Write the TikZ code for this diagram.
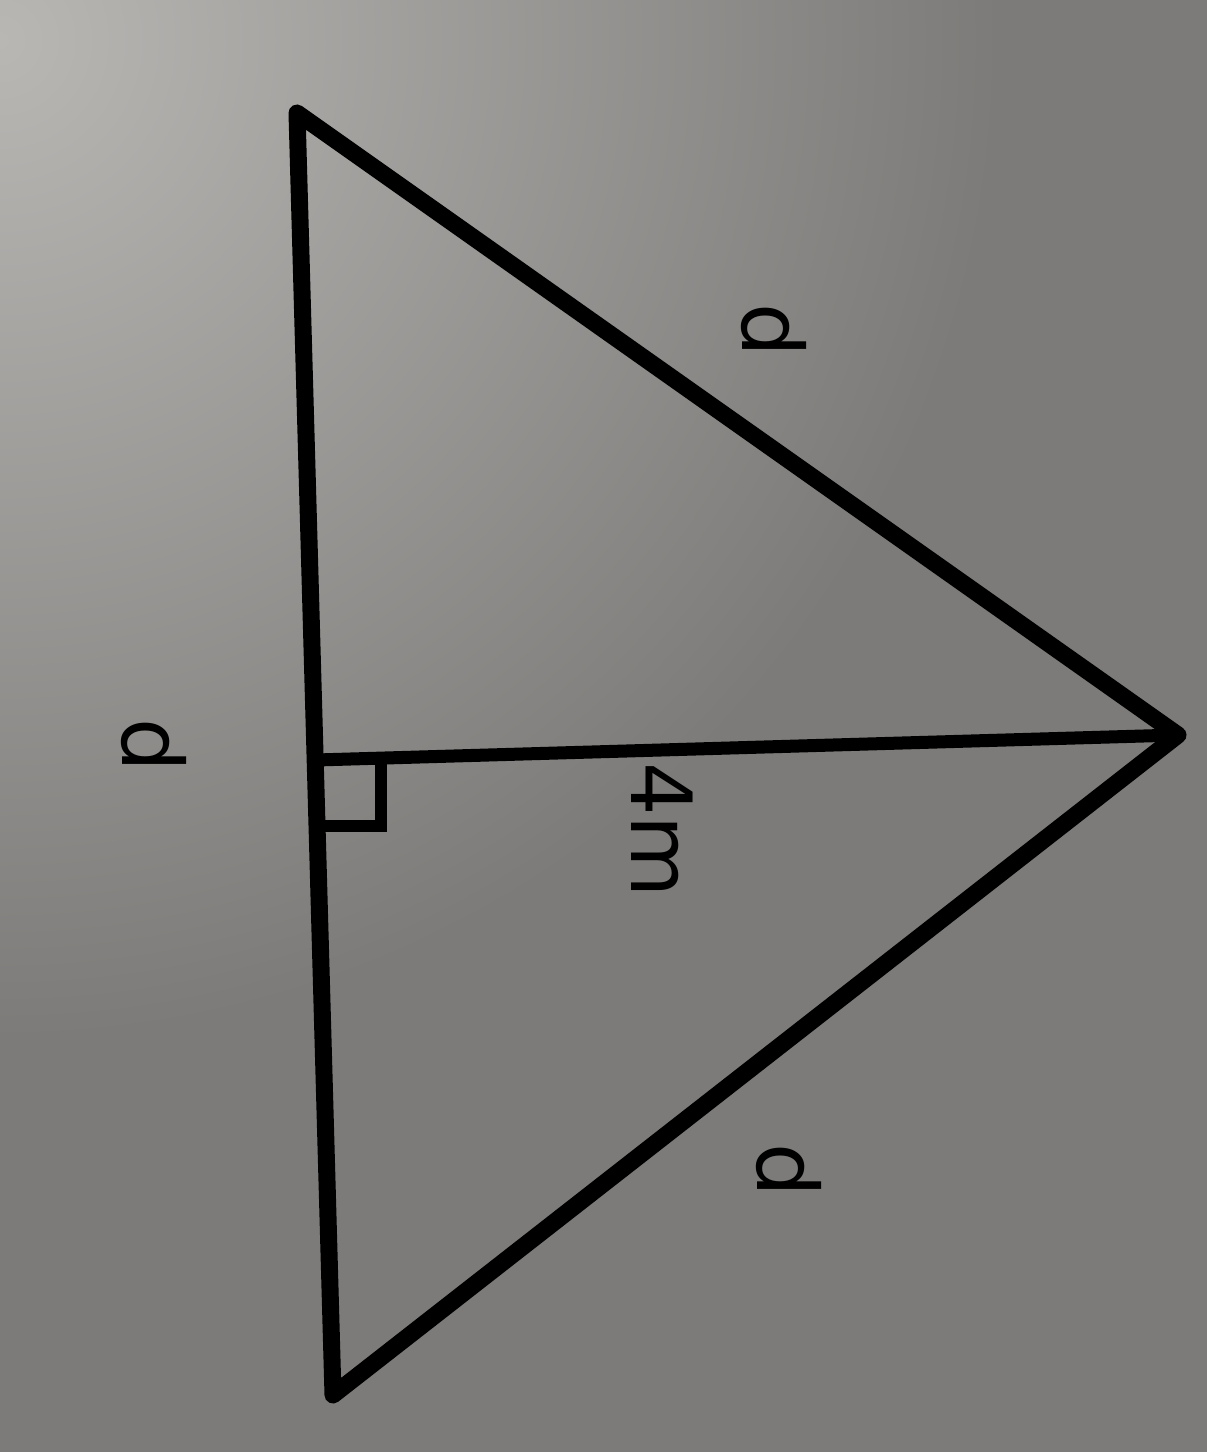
\documentclass[tikz,border=0pt]{standalone}
\usepackage{fontspec}
\setmainfont{DejaVu Sans}
\begin{document}
\begin{tikzpicture}[x=0.01cm,y=-0.01cm,
  edge/.style={line width=0.17cm,line join=round,line cap=round},
  thin edge/.style={line width=0.13cm},
  lbl/.style={font=\fontsize{24}{28}\selectfont,rotate=-90,inner sep=0pt}]
\definecolor{bgbase}{RGB}{124,123,121}
\definecolor{bglight}{RGB}{184,183,180}
\useasboundingbox (0,0) rectangle (1207,1452);
\fill[bgbase] (0,0) rectangle (1207,1452);
\begin{scope}
\clip (0,0) rectangle (1207,1452);
\shade[inner color=bglight, outer color=bgbase] (0,40) circle (1000);
\end{scope}
\coordinate (A) at (297,113);
\coordinate (B) at (333,1395);
\coordinate (C) at (1178,735);
\coordinate (F) at (316,760);
\draw[edge] (A) -- (C) -- (B) -- cycle;
\draw[thin edge] (F) -- (C);
\coordinate (S1) at (381,760);
\coordinate (S2) at (381,826);
\coordinate (S3) at (318,826);
\draw[line width=0.12cm] (S1) -- (S2) -- (S3);
\node[lbl] (d1) at (774,330) {d};
\node[lbl] (d2) at (154,745) {d};
\node[lbl] (d3) at (789,1170) {d};
\node[lbl] (m) at (662,830) {4m};
\end{tikzpicture}
\end{document}
